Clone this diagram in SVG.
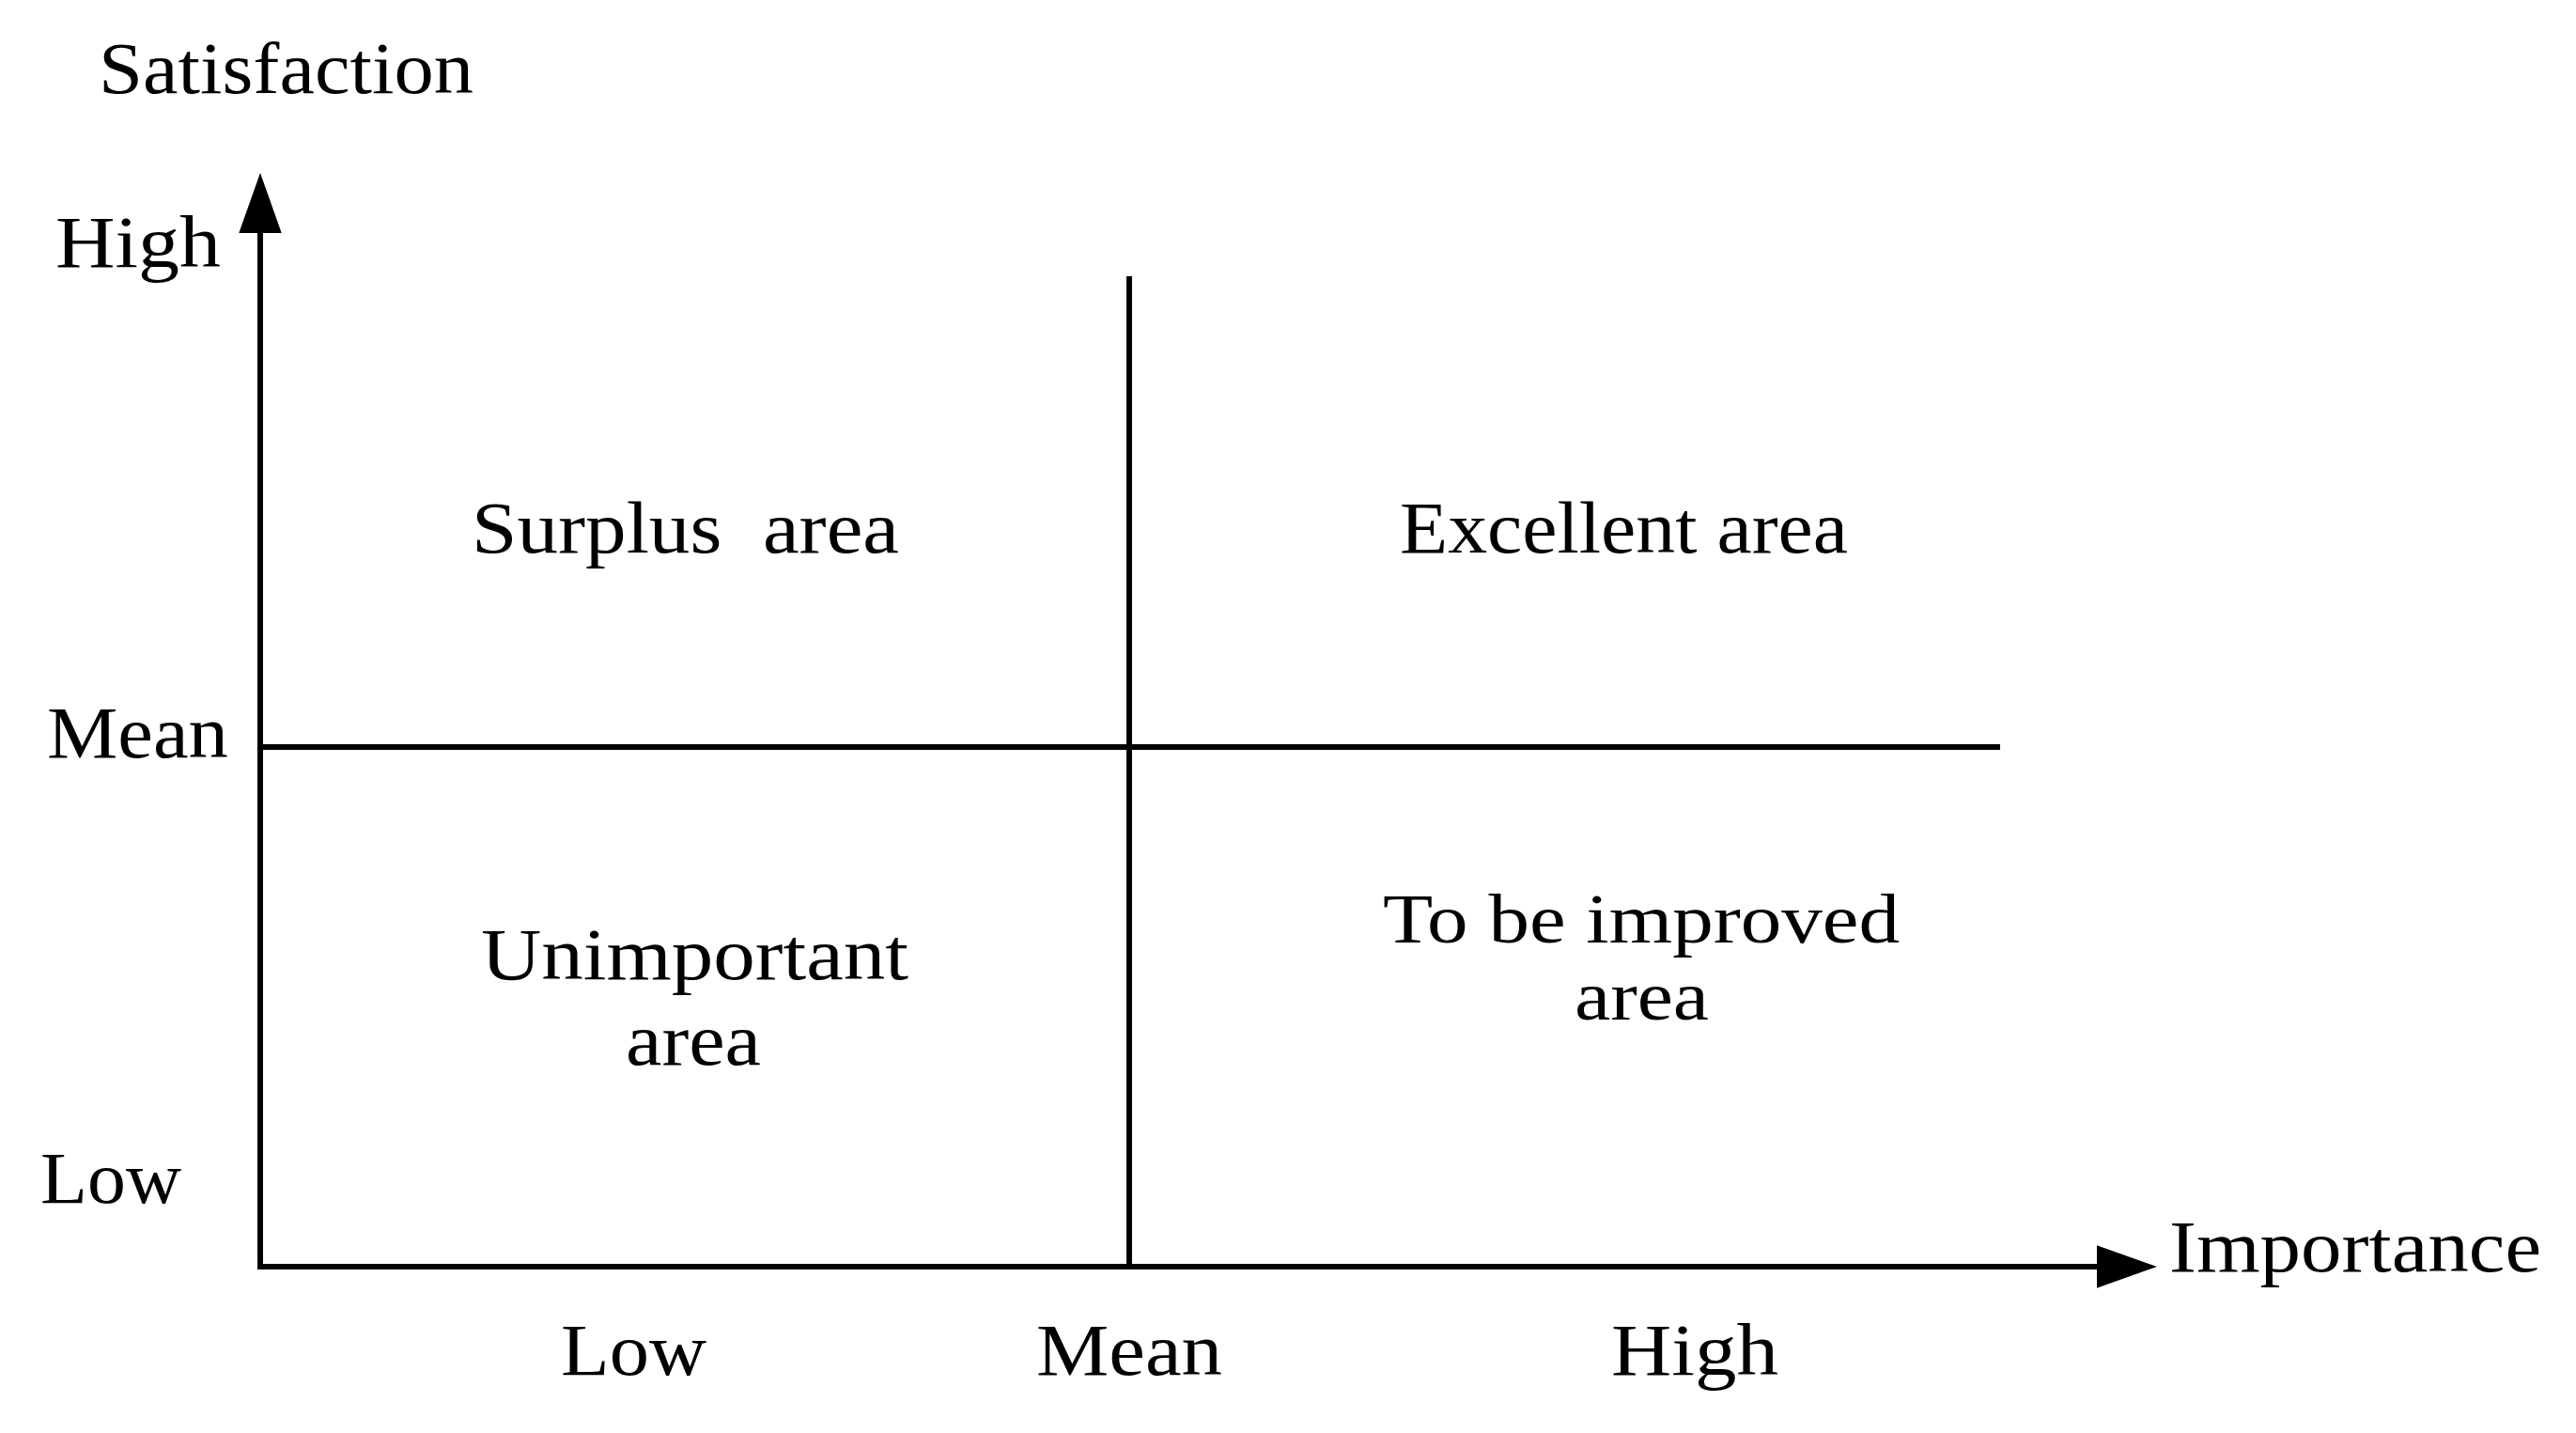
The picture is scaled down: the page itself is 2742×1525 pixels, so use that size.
<svg xmlns="http://www.w3.org/2000/svg" width="2742" height="1525" viewBox="0 0 2742 1525">
  <style>
    .lbl { font-family: "Liberation Serif", "Times New Roman", serif; font-size: 78px; fill: #000; }
    .sm { font-size: 74px; }
    .ln { stroke: #000; stroke-width: 6; fill: none; }
  </style>
  <defs>
    <marker id="arrow" markerUnits="userSpaceOnUse" markerWidth="64" markerHeight="46" refX="0" refY="22" orient="auto" viewBox="0 0 62 44">
      <path d="M0,0 L62,22 L0,44 Z" fill="#000"/>
    </marker>
  </defs>
  <rect width="2742" height="1525" fill="#fff"/>

  <g id="connectors">
    <line class="ln" x1="277" y1="1351" x2="277" y2="248" marker-end="url(#arrow)"/>
    <line class="ln" x1="274" y1="1348" x2="2232" y2="1348" marker-end="url(#arrow)"/>
    <line class="ln" x1="1202" y1="294" x2="1202" y2="1348"/>
    <line class="ln" x1="277" y1="795" x2="2129" y2="795"/>
  </g>

  <g id="axis-y-title"><text class="lbl" x="105" y="99" textLength="399" lengthAdjust="spacingAndGlyphs">Satisfaction</text></g>
  <g id="axis-x-title"><text class="lbl" x="2309" y="1353" textLength="396" lengthAdjust="spacingAndGlyphs">Importance</text></g>

  <g id="y-high"><text class="lbl" x="59" y="284" textLength="176" lengthAdjust="spacingAndGlyphs">High</text></g>
  <g id="y-mean"><text class="lbl" x="50" y="806" textLength="193" lengthAdjust="spacingAndGlyphs">Mean</text></g>
  <g id="y-low"><text class="lbl" x="43" y="1280" textLength="150" lengthAdjust="spacingAndGlyphs">Low</text></g>

  <g id="x-low"><text class="lbl" x="597" y="1463" textLength="155" lengthAdjust="spacingAndGlyphs">Low</text></g>
  <g id="x-mean"><text class="lbl" x="1103" y="1463" textLength="198" lengthAdjust="spacingAndGlyphs">Mean</text></g>
  <g id="x-high"><text class="lbl" x="1715" y="1463" textLength="178" lengthAdjust="spacingAndGlyphs">High</text></g>

  <g id="surplus-area"><text class="lbl" x="502" y="588" textLength="455" lengthAdjust="spacingAndGlyphs" xml:space="preserve">Surplus  area</text></g>
  <g id="excellent-area"><text class="lbl" x="1490" y="588" textLength="477" lengthAdjust="spacingAndGlyphs">Excellent area</text></g>
  <g id="unimportant-area">
    <text class="lbl" x="512" y="1042" textLength="455" lengthAdjust="spacingAndGlyphs">Unimportant</text>
    <text class="lbl" x="666" y="1133" textLength="144" lengthAdjust="spacingAndGlyphs">area</text>
  </g>
  <g id="improve-area">
    <text class="lbl sm" x="1472" y="1003" textLength="550" lengthAdjust="spacingAndGlyphs">To be improved</text>
    <text class="lbl sm" x="1676" y="1085" textLength="143" lengthAdjust="spacingAndGlyphs">area</text>
  </g>
</svg>
